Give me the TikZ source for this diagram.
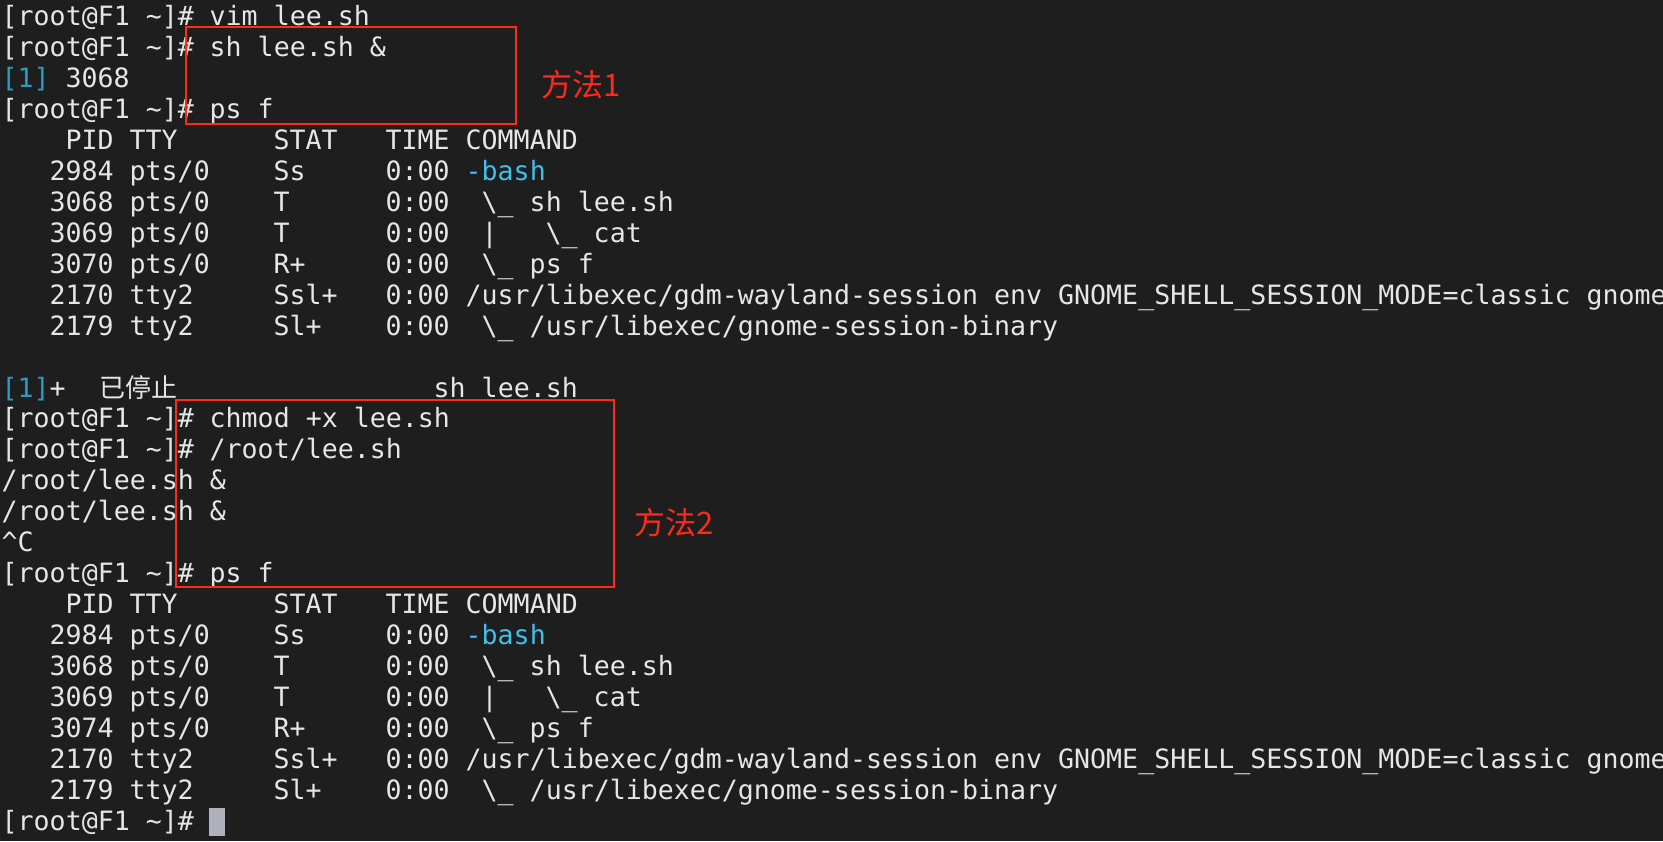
\documentclass[tikz,border=0pt]{standalone}
\usepackage{fontspec}
\newfontfamily\mono{DejaVu Sans Mono}
\newfontfamily\cjk{Noto Sans CJK SC}
\definecolor{bg}{HTML}{1E1E1E}
\definecolor{fg}{HTML}{E6E6E6}
\definecolor{blu}{HTML}{2A9DC0}
\definecolor{cya}{HTML}{3FBFEA}
\definecolor{rd}{HTML}{FF2A1A}
\definecolor{cur}{HTML}{B0B0BC}
\newcommand\T[4][fg]{\node[txt,text=#1] (r#2c#3) at ({1.5+16*#3},{-(25.5+30.96*#2)}) {#4};}
\newcommand\Prm[1]{\T{#1}{0}{[root@F1 \textasciitilde]\#}}
\newcommand\Row[6]{\T{#1}{3}{#2}\T{#1}{8}{#3}\T{#1}{17}{#4}\T{#1}{24}{0:00}}
\begin{document}
\begin{tikzpicture}[x=1pt,y=1pt,
  txt/.style={anchor=base west,inner sep=0pt,font=\mono\fontsize{26.6}{30}\selectfont},
  box/.style={draw=rd,line width=1.3pt},
  lab/.style={text=rd,inner sep=0pt,font=\cjk\fontsize{31}{33}\selectfont}]
\fill[bg] (0,0) rectangle (1663,-841);
\useasboundingbox (0,0) rectangle (1663,-841);
\begin{scope}
\clip (0,0) rectangle (1663,-841);
\Prm{0}\T{0}{13}{vim lee.sh}
\Prm{1}\T{1}{13}{sh lee.sh \&}
\T[blu]{2}{0}{[1]}\T{2}{4}{3068}
\Prm{3}\T{3}{13}{ps f}
% table 1
\T{4}{4}{PID}\T{4}{8}{TTY}\T{4}{17}{STAT}\T{4}{24}{TIME}\T{4}{29}{COMMAND}
\Row{5}{2984}{pts/0}{Ss}{}{}\T[cya]{5}{29}{-bash}
\Row{6}{3068}{pts/0}{T}{}{}\T{6}{30}{\textbackslash\_ sh lee.sh}
\Row{7}{3069}{pts/0}{T}{}{}\T{7}{30}{|}\T{7}{34}{\textbackslash\_ cat}
\Row{8}{3070}{pts/0}{R+}{}{}\T{8}{30}{\textbackslash\_ ps f}
\Row{9}{2170}{tty2}{Ssl+}{}{}\T{9}{29}{/usr/libexec/gdm-wayland-session env GNOME\_SHELL\_SESSION\_MODE=classic gnome-session}
\Row{10}{2179}{tty2}{Sl+}{}{}\T{10}{30}{\textbackslash\_ /usr/libexec/gnome-session-binary}
% stopped
\T[blu]{12}{0}{[1]}\T{12}{3}{+}\T{12}{27}{sh lee.sh}
\node[txt,text=fg,font=\cjk\fontsize{26}{30}\selectfont] (stop) at (99,{-(25.5+30.96*12)}) {已停止};
\Prm{13}\T{13}{13}{chmod +x lee.sh}
\Prm{14}\T{14}{13}{/root/lee.sh}
\T{15}{0}{/root/lee.sh \&}
\T{16}{0}{/root/lee.sh \&}
\T{17}{0}{\textasciicircum C}
\Prm{18}\T{18}{13}{ps f}
% table 2
\T{19}{4}{PID}\T{19}{8}{TTY}\T{19}{17}{STAT}\T{19}{24}{TIME}\T{19}{29}{COMMAND}
\Row{20}{2984}{pts/0}{Ss}{}{}\T[cya]{20}{29}{-bash}
\Row{21}{3068}{pts/0}{T}{}{}\T{21}{30}{\textbackslash\_ sh lee.sh}
\Row{22}{3069}{pts/0}{T}{}{}\T{22}{30}{|}\T{22}{34}{\textbackslash\_ cat}
\Row{23}{3074}{pts/0}{R+}{}{}\T{23}{30}{\textbackslash\_ ps f}
\Row{24}{2170}{tty2}{Ssl+}{}{}\T{24}{29}{/usr/libexec/gdm-wayland-session env GNOME\_SHELL\_SESSION\_MODE=classic gnome-session}
\Row{25}{2179}{tty2}{Sl+}{}{}\T{25}{30}{\textbackslash\_ /usr/libexec/gnome-session-binary}
\Prm{26}
\fill[cur] (209,-808) rectangle (225,-836);
\end{scope}
% annotations
\draw[box] (186,-27) rectangle (516,-124);
\node[lab,anchor=west] (m1) at (541,-85) {方法1};
\draw[box] (176,-400) rectangle (614,-587);
\node[lab,anchor=west] (m2) at (634,-523) {方法2};
\end{tikzpicture}
\end{document}
